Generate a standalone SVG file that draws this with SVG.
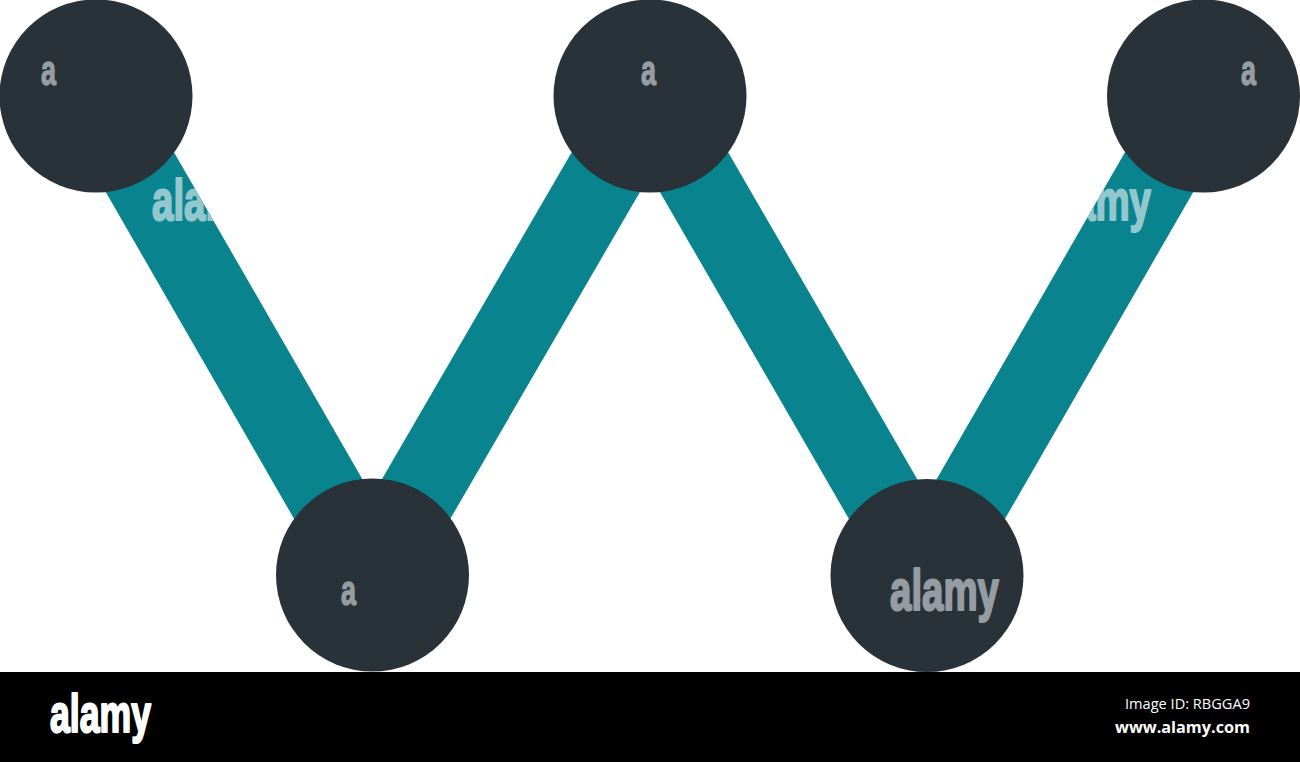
<svg xmlns="http://www.w3.org/2000/svg" width="1300" height="762" viewBox="0 0 1300 762">
<style>
.link{stroke:#09848f;stroke-width:79;fill:none}
.node{fill:#283238}
.wm{font-family:"Liberation Sans",Arial,sans-serif;font-weight:700;stroke-linejoin:round}
.big{font-size:58px;stroke-width:2.2px}
.small{font-size:43px;fill:#959ca2;stroke:#959ca2;stroke-width:1.4px}
.mid{fill:#959ca2;stroke:#959ca2}
.light{fill:#93c7ce;stroke:#93c7ce}
.cap{font-family:"Open Sans","Noto Sans",sans-serif;fill:#fff}
</style>
<defs>
<clipPath id="clipA"><polygon points="130,76 406,555 338,595 62,116"/></clipPath>
<clipPath id="clipD"><polygon points="1237,116 961,595 893,555 1169,76"/></clipPath>
</defs>
<rect width="1300" height="762" fill="#fff"/>
<g id="connectors">
<line class="link" x1="96" y1="96" x2="372" y2="575"/>
<line class="link" x1="372" y1="575" x2="650" y2="96"/>
<line class="link" x1="650" y1="96" x2="927" y2="575"/>
<line class="link" x1="927" y1="575" x2="1203" y2="96"/>
</g>
<g id="band-marks">
<g clip-path="url(#clipA)"><text class="wm big light" x="152" y="220" textLength="109" lengthAdjust="spacingAndGlyphs">alamy</text></g>
<g clip-path="url(#clipD)"><text class="wm big light" x="1042" y="220" textLength="109" lengthAdjust="spacingAndGlyphs">alamy</text></g>
</g>
<g id="node-1"><circle class="node" cx="96" cy="96" r="96.5"/><text class="wm small" x="41" y="85" textLength="15" lengthAdjust="spacingAndGlyphs">a</text></g>
<g id="node-2"><circle class="node" cx="650" cy="96" r="96.5"/><text class="wm small" x="641" y="85" textLength="15" lengthAdjust="spacingAndGlyphs">a</text></g>
<g id="node-3"><circle class="node" cx="1203.5" cy="96" r="96.5"/><text class="wm small" x="1241" y="85" textLength="15" lengthAdjust="spacingAndGlyphs">a</text></g>
<g id="node-4"><circle class="node" cx="372.5" cy="575" r="96.5"/><text class="wm small" x="341" y="605" textLength="15" lengthAdjust="spacingAndGlyphs">a</text></g>
<g id="node-5"><circle class="node" cx="927" cy="575.5" r="96.5"/><text class="wm big mid" x="890" y="610" textLength="109" lengthAdjust="spacingAndGlyphs">alamy</text></g>
<g id="footer">
<rect x="0" y="672" width="1300" height="90" fill="#000"/>
<text class="wm" x="50" y="732" font-size="54" fill="#fff" stroke="#fff" stroke-width="2.2" textLength="101" lengthAdjust="spacingAndGlyphs">alamy</text>
<text class="cap" x="1125" y="709" font-size="15" textLength="125" lengthAdjust="spacingAndGlyphs">Image ID: RBGGA9</text>
<text class="cap" x="1115" y="733" font-size="16" font-weight="700" textLength="135" lengthAdjust="spacingAndGlyphs">www.alamy.com</text>
</g>
</svg>
